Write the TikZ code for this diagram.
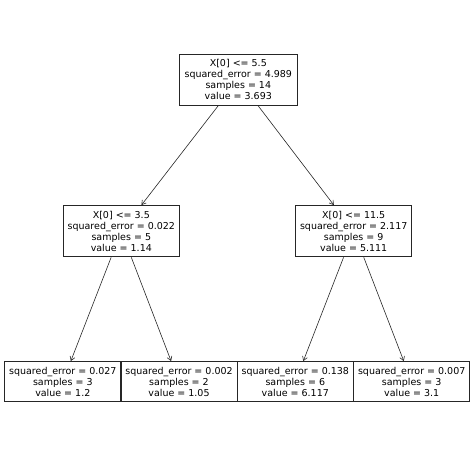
\documentclass[tikz,border=0pt]{standalone}
\usepackage{fontspec}
\setmainfont{DejaVu Sans}
\usetikzlibrary{arrows.meta}

\tikzset{
  treenode/.style={draw=black!85,line width=0.9pt,fill=white,align=center,
    font=\fontsize{9.5}{11}\selectfont,minimum width=116pt,inner xsep=3pt,inner ysep=5.5pt},
  treeedge/.style={draw=black!85,line width=0.6pt,-{Straight Barb[length=4pt,width=5pt]}}
}

\begin{document}
\begin{tikzpicture}[x=1pt,y=-1pt]
    \useasboundingbox (0,0) rectangle (474,462);
    \node[treenode,minimum width=118pt] (root) at (238.3,79.7)
      {X[0] <= 5.5\\squared\_error = 4.989\\samples = 14\\value = 3.693};
    \node[treenode] (left) at (121.3,231.2)
      {X[0] <= 3.5\\squared\_error = 0.022\\samples = 5\\value = 1.14};
    \node[treenode] (right) at (353.7,231.2)
      {X[0] <= 11.5\\squared\_error = 2.117\\samples = 9\\value = 5.111};
    \node[treenode] (leafa) at (62.8,381.7)
      {squared\_error = 0.027\\samples = 3\\value = 1.2};
    \node[treenode] (leafb) at (179,381.7)
      {squared\_error = 0.002\\samples = 2\\value = 1.05};
    \node[treenode] (leafc) at (295.3,381.7)
      {squared\_error = 0.138\\samples = 6\\value = 6.117};
    \node[treenode] (leafd) at (411.7,381.7)
      {squared\_error = 0.007\\samples = 3\\value = 3.1};
    \draw[treeedge] (root) -- (left);
    \draw[treeedge] (root) -- (right);
    \draw[treeedge] (left) -- (leafa);
    \draw[treeedge] (left) -- (leafb);
    \draw[treeedge] (right) -- (leafc);
    \draw[treeedge] (right) -- (leafd);
\end{tikzpicture}
\end{document}
